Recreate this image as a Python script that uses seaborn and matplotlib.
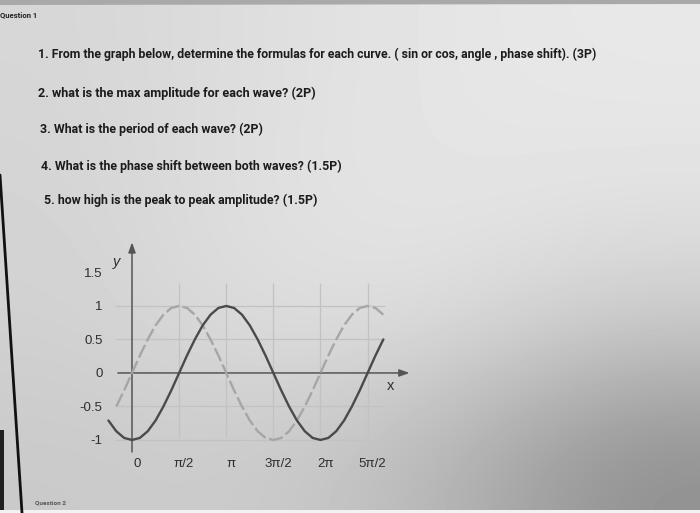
import numpy as np
import matplotlib
matplotlib.use("Agg")
import matplotlib.pyplot as plt
import matplotlib.transforms as mtrans
import seaborn as sns

# ---------------- data ----------------
dashed_deg = [-30, -15, 0, 15, 30, 45, 60, 75, 90, 105, 120, 135, 150, 165, 180,
              195, 210, 225, 240, 255, 270, 285, 300, 315, 330, 345, 360, 375,
              390, 405, 420, 435, 450, 465, 480]
dashed_vals = [-0.50, -0.26, 0.00, 0.26, 0.50, 0.71, 0.87, 0.97, 1.00, 0.97, 0.87,
               0.71, 0.50, 0.26, 0.00, -0.26, -0.50, -0.71, -0.87, -0.97, -1.00,
               -0.97, -0.87, -0.71, -0.50, -0.26, 0.00, 0.26, 0.50, 0.71, 0.87,
               0.97, 1.00, 0.97, 0.87]
solid_deg = [-45, -30, -15, 0, 15, 30, 45, 60, 75, 90, 105, 120, 135, 150, 165,
             180, 195, 210, 225, 240, 255, 270, 285, 300, 315, 330, 345, 360,
             375, 390, 405, 420, 435, 450, 465, 480]
solid_vals = [-0.71, -0.87, -0.97, -1.00, -0.97, -0.87, -0.71, -0.50, -0.26, 0.00,
              0.26, 0.50, 0.71, 0.87, 0.97, 1.00, 0.97, 0.87, 0.71, 0.50, 0.26,
              0.00, -0.26, -0.50, -0.71, -0.87, -0.97, -1.00, -0.97, -0.87, -0.71,
              -0.50, -0.26, 0.00, 0.26, 0.50]
y_tick_vals = [-1, -0.5, 0, 0.5, 1, 1.5]
y_tick_labels = ["-1", "-0.5", "0", "0.5", "1", "1.5"]
x_tick_pi = [0, 0.5, 1, 1.5, 2, 2.5]
x_tick_labels = ["0", "π/2", "π", "3π/2", "2π", "5π/2"]
h_grid_vals = [-1, -0.5, 0.5, 1]
v_grid_pi = [0.5, 1, 1.5, 2, 2.5]

header_text = "Question 1"
footer_text = "Question 2"
questions = [
    "1. From the graph below, determine the formulas for each curve. ( sin or cos, angle , phase shift). (3P)",
    "2. what is the max amplitude for each wave? (2P)",
    "3. What is the period of each wave? (2P)",
    "4. What is the phase shift between both waves? (1.5P)",
    "5. how high is the peak to peak amplitude? (1.5P)",
]
# ------------------------------------------------------------

sns.set_theme(style="white")
plt.rcParams['font.family'] = ['DejaVu Sans']
q_family = ["Liberation Sans Narrow", "Roboto", "DejaVu Sans"]
tick_family = ["Liberation Sans", "DejaVu Sans"]

W, H = 700, 513
fig = plt.figure(figsize=(W / 100, H / 100), dpi=100)

# background: photographed screen with uneven lighting
bg = fig.add_axes([0, 0, 1, 1], zorder=-10)
shade = np.array([[0.84, 0.87, 0.90, 0.91],
                  [0.83, 0.88, 0.90, 0.89],
                  [0.82, 0.87, 0.87, 0.80],
                  [0.79, 0.80, 0.72, 0.56]])
bg.imshow(shade, cmap="gray", vmin=0, vmax=1, extent=[0, W, H, 0],
          interpolation="bicubic", aspect="auto")
bg.set_xlim(0, W)
bg.set_ylim(H, 0)
bg.axis("off")
# top strip, bezel line on the left, white bottom edge
bg.fill_between([0, W], [0, 0], [5, 4], color="#a9a9a9", lw=0)
bg.plot([0, 22], [175, 513], color="#111111", lw=2.0)
bg.fill_between([0, 4], [430, 430], [513, 513], color="#202020", lw=0)
bg.fill_between([0, W], [510, 510], [513, 513], color="#f2f2f2", lw=0)

# question texts
bg.text(0, 15, header_text, fontsize=5.6, fontweight="bold", color="#222222",
        family=q_family, va="center", ha="left")
bg.text(35, 503, footer_text, fontsize=4.6, fontweight="bold", color="#555555",
        family=q_family, va="center", ha="left")
q_pos = [(38, 54, 600), (38, 93, 316), (40, 129, 263), (41, 166, 342), (44, 200, 319)]
renderer = fig.canvas.get_renderer()
for (x0, y0, x1), q in zip(q_pos, questions):
    t = bg.text(x0, y0, q, fontsize=8, fontweight="bold", color="#1c1c1c",
                family=q_family, va="center", ha="left")
    w = t.get_window_extent(renderer).width
    t.set_fontsize(8 * (x1 - x0) / w)

# chart axes: x = 0 at px 132, 30 px per rad; y = 0 at px 373, 67 px per unit
ax = fig.add_axes([108 / W, (H - 452) / H, 303 / W, 209 / H])
ax.set_facecolor("none")
ax.set_xlim(-0.8, 9.3)
ax.set_ylim(-1.18, 1.94)
for s in ax.spines.values():
    s.set_visible(False)

grid_c = "#c2c2c2"
ax.hlines(h_grid_vals, -0.57, 8.43, color=grid_c, lw=0.9, zorder=1)
ax.vlines(np.array(v_grid_pi) * np.pi, -0.96, 1.34, color=grid_c, lw=0.9, zorder=1)

axis_c = "#555555"
ax.annotate("", xy=(9.25, 0), xytext=(-0.47, 0), annotation_clip=False,
            arrowprops=dict(arrowstyle="-|>,head_length=0.5,head_width=0.18",
                            color=axis_c, lw=1.1, shrinkA=0, shrinkB=0), zorder=2)
ax.annotate("", xy=(0, 1.95), xytext=(0, -1.18), annotation_clip=False,
            arrowprops=dict(arrowstyle="-|>,head_length=0.5,head_width=0.18",
                            color=axis_c, lw=1.1, shrinkA=0, shrinkB=0), zorder=2)

sns.lineplot(x=np.deg2rad(dashed_deg), y=dashed_vals, ax=ax, color="#a6a6a6",
             linewidth=1.7, sort=False, estimator=None, zorder=3, clip_on=False)
sns.lineplot(x=np.deg2rad(solid_deg), y=solid_vals, ax=ax, color="#4a4a4a",
             linewidth=1.7, sort=False, estimator=None, zorder=4, clip_on=False)
ax.lines[-2].set_linestyle((0, (6, 1.6)))

ax.set_yticks(y_tick_vals)
ax.set_yticklabels(y_tick_labels, family=tick_family)
ax.set_xticks(np.array(x_tick_pi) * np.pi)
ax.set_xticklabels(x_tick_labels, family=tick_family)
ax.tick_params(axis="both", length=0, labelsize=9.5, colors="#2e2e2e")
ax.tick_params(axis="y", pad=4)
ax.tick_params(axis="x", pad=4)
off = mtrans.ScaledTranslation(5 / 100, 0, fig.dpi_scale_trans)
for lab in ax.get_xticklabels():
    lab.set_transform(lab.get_transform() + off)

ax.text(-0.5, 1.66, "y", fontsize=10.5, color="#2e2e2e", ha="center", va="center",
        family=tick_family, style="italic")
ax.text(8.63, -0.19, "x", fontsize=10.5, color="#2e2e2e", ha="center", va="center",
        family=tick_family)
ax.set_xlabel("")
ax.set_ylabel("")

fig.savefig("out.png", dpi=100)
